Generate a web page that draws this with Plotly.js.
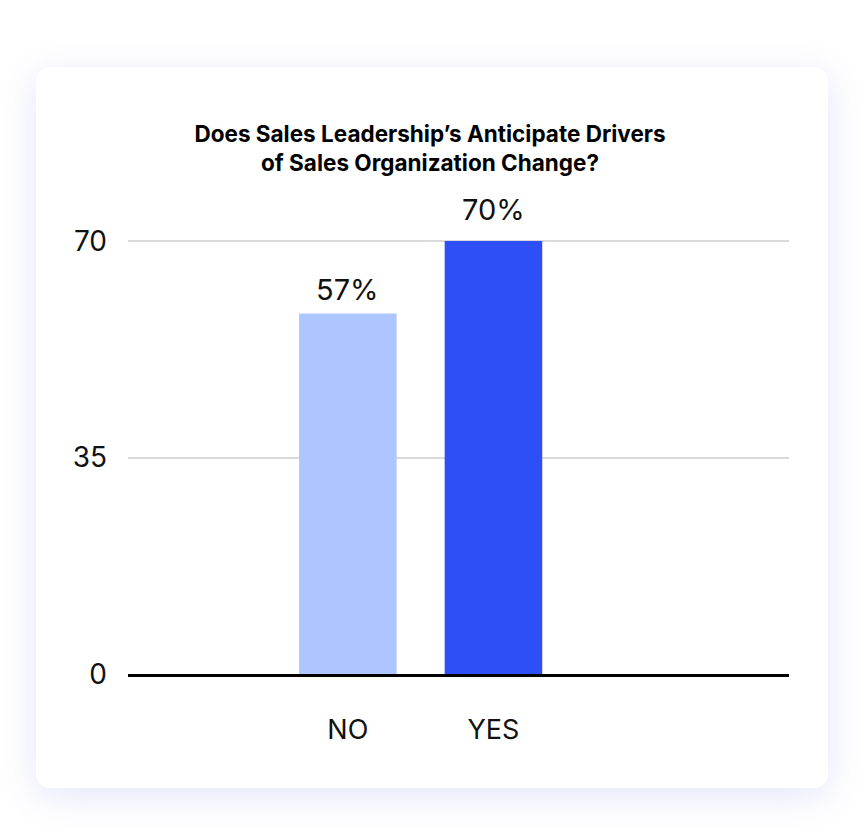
<!DOCTYPE html>
<html>
<head>
<meta charset="utf-8">
<script src="https://cdn.plot.ly/plotly-3.0.1.min.js"></script>
<style>
  html, body { margin: 0; padding: 0; background: #ffffff; width: 864px; height: 839px; overflow: hidden; }
  #card {
    position: absolute; left: 36px; top: 67px; width: 792px; height: 721px;
    background: #ffffff; border-radius: 14px;
    box-shadow: 0 8px 36px rgba(90, 100, 220, 0.16);
  }
  #chart { position: absolute; left: 36px; top: 67px; width: 792px; height: 721px; }
</style>
</head>
<body>
<div id="card"></div>
<div id="chart"></div>
<script>
var categories = ["NO", "YES"];
// bar heights as drawn in the picture (the NO bar stands a bit above 57)
var barValues = [58.3, 70];
// the printed percentages, which also set where the labels sit
var labelValues = [57, 70];
var barColors = ["#adc6ff", "#2d4ff5"];
var yTicks = [0, 35, 70];

var fontFamily = "Inter, 'Noto Sans', sans-serif";

var trace =
{
    x: categories,
    y: barValues,
    type: "bar",
    width: 0.67,
    marker: { color: barColors, line: { width: 0 } },
    hoverinfo: "none"
};

// value labels above the bars
var valueLabels = categories.map((category, index) => ({
    x: category,
    y: labelValues[index],
    xref: "x",
    yref: "y",
    text: labelValues[index] + "%",
    showarrow: false,
    yanchor: "bottom",
    yshift: 12,
    font: { family: fontFamily, size: 29, color: "#111111" }
}));

var layout =
{
    width: 792,
    height: 721,
    margin: { l: 92, r: 39, t: 171, b: 114 },
    paper_bgcolor: "rgba(0,0,0,0)",
    plot_bgcolor: "rgba(0,0,0,0)",
    showlegend: false,
    font: { family: fontFamily, color: "#111111" },
    title:
    {
        text: "<b>Does Sales Leadership’s Anticipate Drivers<br>of Sales Organization Change?</b>",
        font: { family: fontFamily, size: 22.5, color: "#000000" },
        xref: "container",
        yref: "container",
        x: 0.4975,
        y: 0.896,
        xanchor: "center",
        yanchor: "middle"
    },
    annotations: valueLabels,
    xaxis:
    {
        type: "category",
        range: [-1.51, 3.03],
        showgrid: false,
        zeroline: false,
        showline: true,
        linecolor: "#000000",
        linewidth: 3,
        ticks: "",
        ticklabelstandoff: 30,
        tickfont: { family: fontFamily, size: 27, color: "#111111" }
    },
    yaxis:
    {
        range: [0, 70.5],
        tickvals: yTicks,
        ticktext: yTicks.map(String),
        showgrid: true,
        gridcolor: "#d9d9d9",
        gridwidth: 2,
        zeroline: false,
        showline: false,
        ticks: "",
        ticklabelstandoff: 20,
        tickfont: { family: fontFamily, size: 28, color: "#111111" }
    }
};

var config = { displayModeBar: false, staticPlot: true };

Plotly.newPlot("chart", [trace], layout, config);
</script>
</body>
</html>
